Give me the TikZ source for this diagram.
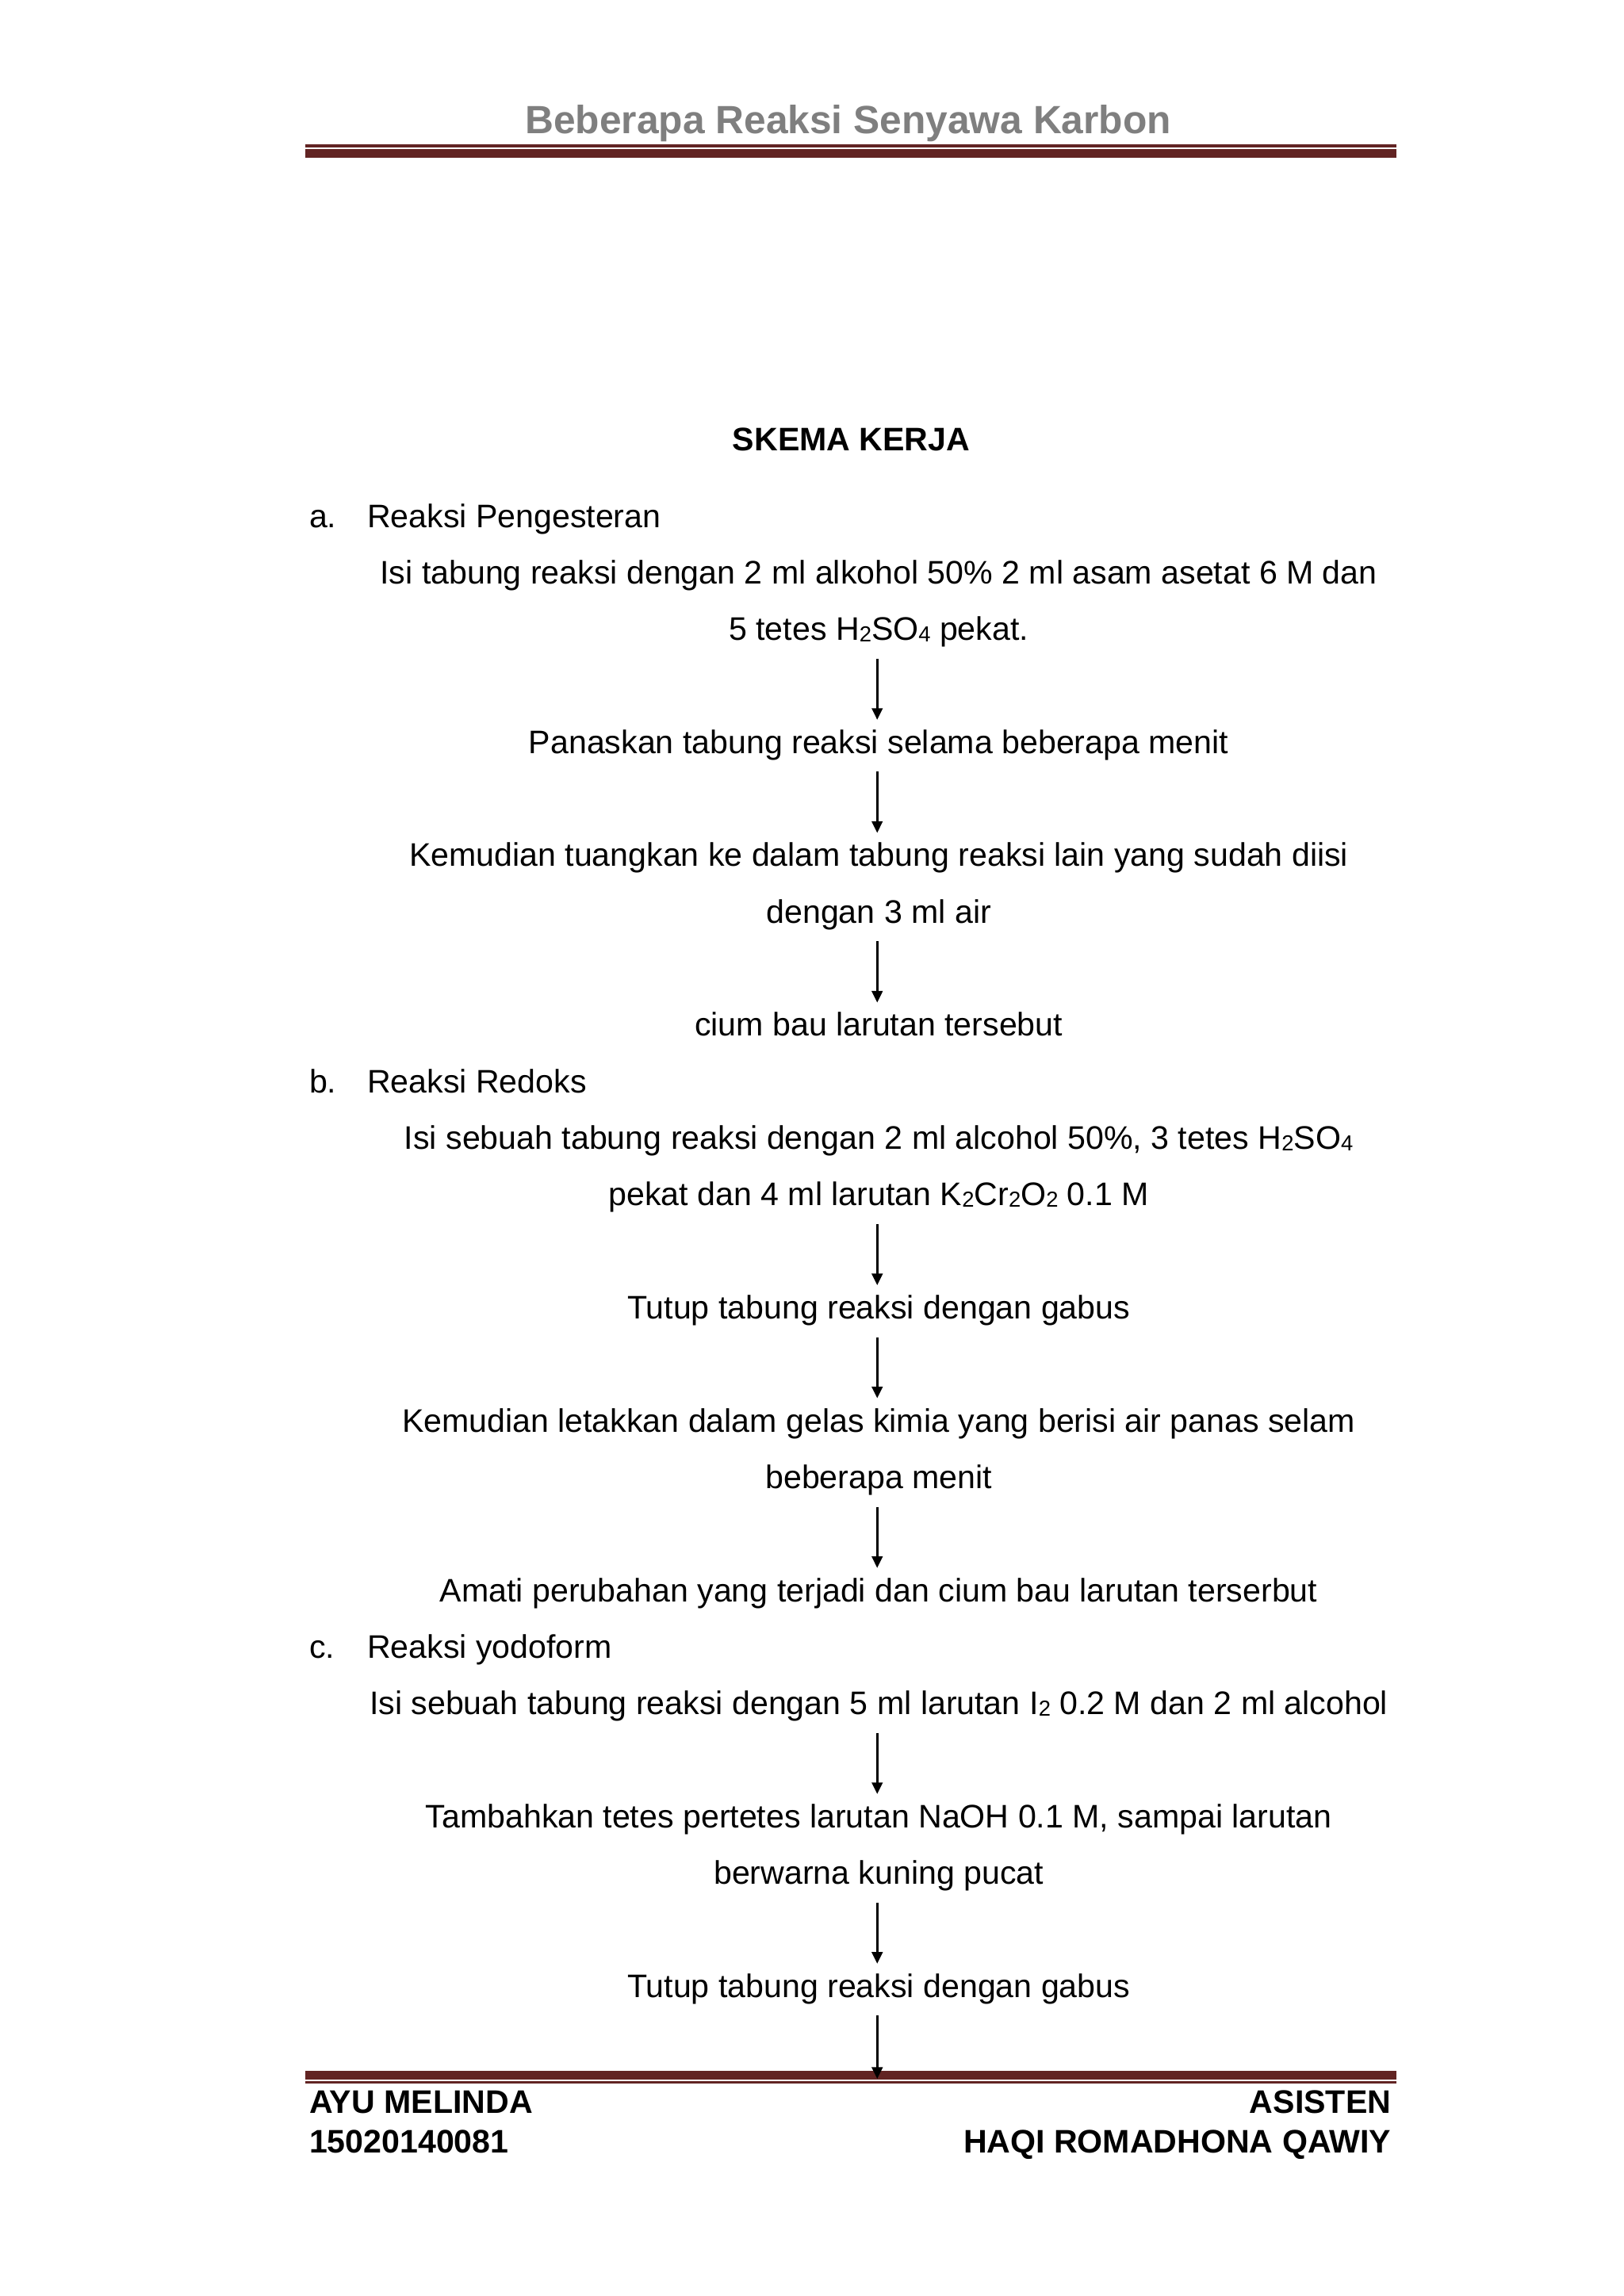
\documentclass[tikz,border=0pt]{standalone}
\usepackage{fontspec}
\setmainfont{Liberation Sans}
\usetikzlibrary{arrows.meta}
\definecolor{hdrred}{HTML}{622423}
\definecolor{hdrgray}{HTML}{7F7F7F}
\newcommand{\chs}[1]{\raisebox{-0.6pt}{\fontsize{8}{8}\selectfont #1}}
\tikzset{
  body/.style={inner sep=0pt, outer sep=0pt, text height=8.6pt, text depth=0pt,
    font=\fontsize{12}{14}\selectfont, anchor=south},
  lbl/.style={body, anchor=south west},
  foot/.style={inner sep=0pt, outer sep=0pt, font=\fontsize{12}{14}\selectfont\bfseries},
  arr/.style={-{Triangle[width=1.4mm,length=1.5mm]}, line width=0.75pt,
    shorten <=2.37mm, shorten >=1.33mm},
  rule/.style={hdrred, line cap=butt}
}
\begin{document}
\begin{tikzpicture}[x=1mm,y=1mm]
\useasboundingbox (0,0) rectangle (210,-297);
\fill[white] (0,0) rectangle (210,-297);
% header
\node[inner sep=0pt, anchor=base, text=hdrgray, font=\fontsize{14.5}{16}\selectfont\bfseries] (title) at (109.7,-17.23) {Beberapa Reaksi Senyawa Karbon};
\coordinate (hl) at (39.5,0);
\coordinate (hr) at (180.6,0);
\draw[rule, line width=0.35mm] (39.5,-18.87) -- (180.6,-18.87);
\draw[rule, line width=1.1mm] (39.5,-19.87) -- (180.6,-19.87);
% footer
\draw[rule, line width=1.1mm] (39.5,-268.4) -- (180.6,-268.4);
\draw[rule, line width=0.32mm] (39.5,-269.35) -- (180.6,-269.35);
\node[foot, anchor=base west] (f1) at (40,-273.35) {AYU MELINDA};
\node[foot, anchor=base west] (f2) at (40,-278.45) {15020140081};
\node[foot, anchor=base east] (f3) at (179.9,-273.35) {ASISTEN};
\node[foot, anchor=base east] (f4) at (179.9,-278.45) {HAQI ROMADHONA QAWIY};
% heading
\node[body, font=\fontsize{12}{14}\selectfont\bfseries] (sk) at (110.1,-58.25) {SKEMA KERJA};
% a
\node[lbl] (la) at (40,-68.20) {a.};
\node[lbl] (ha) at (47.5,-68.20) {Reaksi Pengesteran};
\node[body] (t1) at (113.65,-75.51) {Isi tabung reaksi dengan 2 ml alkohol 50\% 2 ml asam asetat 6 M dan};
\node[body] (t2) at (113.65,-82.83) {5 tetes H\chs{2}SO\chs{4} pekat.};
\node[body] (t4) at (113.65,-97.46) {Panaskan tabung reaksi selama beberapa menit};
\node[body] (t6) at (113.65,-112.08) {Kemudian tuangkan ke dalam tabung reaksi lain yang sudah diisi};
\node[body] (t7) at (113.65,-119.40) {dengan 3 ml air};
\node[body] (t9) at (113.65,-134.03) {cium bau larutan tersebut};
% b
\node[lbl] (lb) at (40,-141.34) {b.};
\node[lbl] (hb) at (47.5,-141.34) {Reaksi Redoks};
\node[body] (t11) at (113.65,-148.65) {Isi sebuah tabung reaksi dengan 2 ml alcohol 50\%, 3 tetes H\chs{2}SO\chs{4}};
\node[body] (t12) at (113.65,-155.97) {pekat dan 4 ml larutan K\chs{2}Cr\chs{2}O\chs{2} 0.1 M};
\node[body] (t14) at (113.65,-170.60) {Tutup tabung reaksi dengan gabus};
\node[body] (t16) at (113.65,-185.22) {Kemudian letakkan dalam gelas kimia yang berisi air panas selam};
\node[body] (t17) at (113.65,-192.54) {beberapa menit};
\node[body] (t19) at (113.65,-207.17) {Amati perubahan yang terjadi dan cium bau larutan terserbut};
% c
\node[lbl] (lc) at (40,-214.48) {c.};
\node[lbl] (hc) at (47.5,-214.48) {Reaksi yodoform};
\node[body] (t21) at (113.65,-221.79) {Isi sebuah tabung reaksi dengan 5 ml larutan I\chs{2} 0.2 M dan 2 ml alcohol};
\node[body] (t23) at (113.65,-236.42) {Tambahkan tetes pertetes larutan NaOH 0.1 M, sampai larutan};
\node[body] (t24) at (113.65,-243.74) {berwarna kuning pucat};
\node[body] (t26) at (113.65,-258.36) {Tutup tabung reaksi dengan gabus};
% arrows
\coordinate (ax) at (113.45,0);
\coordinate (fend) at (113.45,-268.9);
\draw[arr] (t2.south -| ax) -- (t4.north -| ax);
\draw[arr] (t4.south -| ax) -- (t6.north -| ax);
\draw[arr] (t7.south -| ax) -- (t9.north -| ax);
\draw[arr] (t12.south -| ax) -- (t14.north -| ax);
\draw[arr] (t14.south -| ax) -- (t16.north -| ax);
\draw[arr] (t17.south -| ax) -- (t19.north -| ax);
\draw[arr] (t21.south -| ax) -- (t23.north -| ax);
\draw[arr] (t24.south -| ax) -- (t26.north -| ax);
\draw[arr, shorten >=0pt] (t26.south -| ax) -- (fend);
\end{tikzpicture}
\end{document}
